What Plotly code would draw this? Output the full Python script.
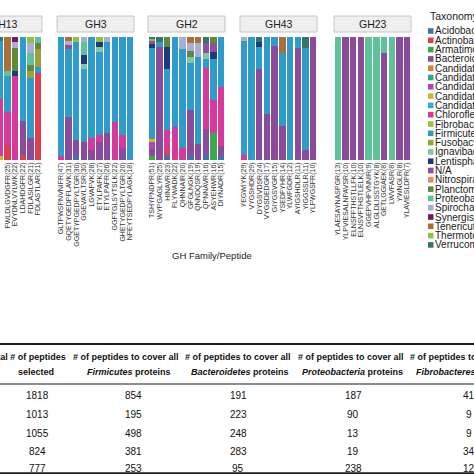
import plotly.graph_objects as go

# ---------------- data ----------------
taxa = ["Acidobacteria", "Actinobacteria", "Armatimonadetes", "Bacteroidetes",
        "Candidatus Cloacimonetes", "Candidatus Melainabacteria", "Candidatus Omnitrophica",
        "Candidatus Saccharibacteria", "Candidatus Tectomicrobia", "Chloroflexi",
        "Fibrobacteres", "Firmicutes", "Fusobacteria", "Ignavibacteriae", "Lentisphaerae",
        "N/A", "Nitrospirae", "Planctomycetes", "Proteobacteria", "Spirochaetes",
        "Synergistetes", "Tenericutes", "Thermotogae", "Verrucomicrobia"]
taxa_colors = ["#4B6DB0", "#DE3F4E", "#3BAA4A", "#8A4B9C",
               "#D4843A", "#2EA98C", "#B247B3", "#CDBA2D", "#2CB3CC", "#D5399B",
               "#9CBE42", "#2F9BCB", "#9AA23A", "#7DC7A4", "#1D3C7D",
               "#8E4FA6", "#E8866E", "#5F8A3A", "#5EC39C", "#A8AED6",
               "#6B1D5E", "#A8713A", "#8CC441", "#33776B"]

families = ["GH13", "GH3", "GH2", "GH43", "GH23"]

gh13_peptides = ["DAVNHMR(45)", "GDGFRLDAVK(38)", "WDLNEPVR(33)", "IDGFRFDAAK(30)",
                 "GVDGFRIDTMNR(28)", "FWLDLGVDGFR(25)", "EVYDNLVYLWK(22)", "LDAHDGFR(22)",
                 "FDLASILGR(21)", "FDLASTLAR(21)"]
gh3_peptides = ["GLTFWSPNVNIFR(47)", "GQETYGEDPFLAVK(31)", "GGETYPGEDPYLTGR(30)",
                "GGEVAYLTSR(30)", "LGVAFVK(28)", "ETYLPAFK(27)", "ETYLPAFR(26)",
                "GGFTGLSYTSLK(22)", "GHETYGEDPYLTGR(20)", "NFEYTSEDPYLAGK(18)"]
gh2_peptides = ["TSHYPNDPR(51)", "WYPGAGLYR(25)", "HINAVR(23)", "FLYWADK(22)",
                "QHNNAIR(20)", "GFGLNGK(19)", "QNNDQSR(19)", "QPNNAVR(16)",
                "ASYEHWR(16)", "DIYNADR(15)"]
gh43_peptides = ["YEGWIYK(29)", "VYGSHDR(29)", "DYGSVDSR(24)", "VYGSDEDGR(17)",
                 "GIYGSVGR(15)", "YSEDFYHR(14)", "YLWFGDR(12)", "AYIGSHDLR(11)",
                 "YIGGSSLR(11)", "YLFWGSFR(10)"]
gh23_peptides = ["YLAESAYNASPGR(13)", "YLPVIESALNPAVSR(10)", "ELNSFFTHSTLLFK(10)",
                 "ELNSVFTHSTLELK(10)", "GGEPVHFVNNIR(9)", "ALGLDLISSTGYK(8)",
                 "GETLGGIAEK(8)", "LWVFASR(8)", "YWNGLR(8)", "YLAVIESLDPR(7)"]

# fraction of proteins per taxon, per peptide (bar)
gh13_taxa = {
    "Actinobacteria": [0.10, 0, 0, 0.10, 0, 0.11, 0, 0.04, 0, 0.71],
    "Bacteroidetes": [0.30, 0.20, 0.30, 0, 0, 0, 0, 0.28, 0.18, 0],
    "Candidatus Saccharibacteria": [0, 0, 0, 0, 0.03, 0, 0, 0, 0, 0],
    "Chloroflexi": [0, 0.30, 0, 0.50, 0.47, 0.28, 0.68, 0, 0, 0],
    "Firmicutes": [0.60, 0.50, 0.70, 0.40, 0.47, 0.29, 0, 0.68, 0.49, 0.05],
    "Fusobacteria": [0, 0, 0, 0, 0, 0, 0, 0, 0.05, 0.14],
    "Lentisphaerae": [0, 0, 0, 0, 0, 0, 0.04, 0, 0, 0],
    "Planctomycetes": [0, 0, 0, 0, 0, 0, 0.19, 0, 0.05, 0.05],
    "Proteobacteria": [0, 0, 0, 0, 0, 0.04, 0, 0, 0.10, 0.05],
    "Spirochaetes": [0, 0, 0, 0, 0, 0, 0.05, 0, 0.08, 0],
    "Synergistetes": [0, 0, 0, 0, 0, 0, 0.04, 0, 0, 0],
    "Tenericutes": [0, 0, 0, 0, 0, 0.28, 0, 0, 0, 0],
    "Thermotogae": [0, 0, 0, 0, 0, 0, 0, 0, 0.05, 0],
    "Verrucomicrobia": [0, 0, 0, 0, 0.03, 0, 0, 0, 0, 0],
}
gh3_taxa = {
    "Acidobacteria": [0, 0, 0.04, 0, 0, 0, 0, 0, 0, 0],
    "Bacteroidetes": [0, 0.35, 0.12, 0.15, 0.08, 0.15, 0.22, 0, 0.10, 0],
    "Chloroflexi": [0.03, 0, 0, 0, 0.10, 0.05, 0, 0.31, 0.10, 0],
    "Firmicutes": [0.97, 0.55, 0.80, 0.59, 0.82, 0.68, 0.74, 0.69, 0.80, 1.0],
    "Ignavibacteriae": [0, 0, 0, 0.04, 0, 0.04, 0, 0, 0, 0],
    "Lentisphaerae": [0, 0, 0, 0.07, 0, 0.04, 0, 0, 0, 0],
    "N/A": [0, 0.035, 0, 0, 0, 0, 0, 0, 0, 0],
    "Proteobacteria": [0, 0, 0, 0.11, 0, 0, 0, 0, 0, 0],
    "Spirochaetes": [0, 0.03, 0, 0.04, 0, 0, 0.04, 0, 0, 0],
    "Tenericutes": [0, 0.035, 0, 0, 0, 0, 0, 0, 0, 0],
    "Thermotogae": [0, 0, 0.04, 0, 0, 0.04, 0, 0, 0, 0],
}
gh2_taxa = {
    "Acidobacteria": [0, 0, 0.04, 0, 0, 0.04, 0, 0.05, 0, 0.04],
    "Actinobacteria": [0, 0, 0.04, 0, 0, 0, 0, 0, 0, 0],
    "Armatimonadetes": [0.03, 0, 0, 0, 0, 0, 0, 0, 0.22, 0],
    "Bacteroidetes": [0.06, 0.92, 0, 0, 0, 0.37, 0.13, 0.20, 0, 0.07],
    "Candidatus Omnitrophica": [0.06, 0, 0, 0, 0, 0, 0, 0, 0, 0],
    "Candidatus Saccharibacteria": [0.02, 0, 0, 0, 0, 0, 0, 0, 0, 0],
    "Chloroflexi": [0, 0, 0.16, 0.27, 0.10, 0, 0, 0.50, 0.27, 0.48],
    "Firmicutes": [0.74, 0.04, 0.50, 0.73, 0.80, 0.38, 0.71, 0.07, 0.33, 0.41],
    "Ignavibacteriae": [0, 0, 0, 0, 0, 0.05, 0, 0.05, 0, 0],
    "Lentisphaerae": [0.03, 0, 0.18, 0, 0, 0, 0, 0, 0.06, 0],
    "N/A": [0.03, 0, 0, 0, 0, 0, 0, 0.08, 0.07, 0],
    "Planctomycetes": [0, 0, 0.08, 0, 0, 0.05, 0, 0, 0.05, 0],
    "Spirochaetes": [0, 0, 0, 0, 0.10, 0.06, 0.11, 0, 0, 0],
    "Tenericutes": [0, 0, 0, 0, 0, 0.05, 0.05, 0, 0, 0],
    "Thermotogae": [0.015, 0, 0, 0, 0, 0, 0, 0, 0, 0],
    "Verrucomicrobia": [0.015, 0.04, 0, 0, 0, 0, 0, 0.05, 0, 0],
}
gh43_taxa = {
    "Bacteroidetes": [0, 0, 0.74, 0.37, 0.93, 0.28, 0, 0.91, 0.08, 1.0],
    "Chloroflexi": [0.04, 0, 0, 0, 0, 0, 0, 0, 0, 0],
    "Firmicutes": [0.93, 1.0, 0.18, 0.63, 0.07, 0.59, 1.0, 0.09, 0.83, 0],
    "Lentisphaerae": [0, 0, 0.04, 0, 0, 0, 0, 0, 0, 0],
    "Spirochaetes": [0.03, 0, 0, 0, 0, 0, 0, 0, 0, 0],
    "Tenericutes": [0, 0, 0, 0, 0, 0.13, 0, 0, 0, 0],
    "Verrucomicrobia": [0, 0, 0.04, 0, 0, 0, 0, 0, 0.09, 0],
}
gh23_taxa = {
    "Bacteroidetes": [0, 1.0, 1.0, 1.0, 0, 0, 0.87, 0, 1.0, 1.0],
    "Proteobacteria": [1.0, 0, 0, 0, 1.0, 1.0, 0.13, 1.0, 0, 0],
}

# table below the chart
table_phyla = ["Firmicutes", "Bacteroidetes", "Proteobacteria", "Fibrobacteres"]
total_selected = [1818, 1013, 1055, 824, 777]
firmicutes_cover = [854, 195, 498, 381, 253]
bacteroidetes_cover = [191, 223, 248, 283, 95]
proteobacteria_cover = [187, 90, 13, 19, 238]
fibrobacteres_cover = [41, 9, 9, 34, 12]

# ---------------- layout helpers ----------------
W = 474.0
FONT = "Liberation Sans, Arial, sans-serif"


def px(v):
    return v / W


def py(v):
    return 1 - v / W


panel_start = [-35, 57, 148, 240, 334]
panel_width = 77.0
bar_top, bar_bottom = 37, 160

peptide_lists = [gh13_peptides, gh3_peptides, gh2_peptides, gh43_peptides, gh23_peptides]
taxa_tables = [gh13_taxa, gh3_taxa, gh2_taxa, gh43_taxa, gh23_taxa]
color_of = dict(zip(taxa, taxa_colors))

fig = go.Figure()
layout = dict(
    width=474, height=474, margin=dict(l=0, r=0, t=0, b=0, pad=0),
    paper_bgcolor="white", plot_bgcolor="white", template="none",
    barmode="stack", bargap=0.17, showlegend=False,
    font=dict(family=FONT, color="#222222"),
    yaxis=dict(domain=[py(bar_bottom), py(bar_top)], range=[0, 1], visible=False,
               fixedrange=True),
    shapes=[], annotations=[],
)

for i, (fam, peps, tab) in enumerate(zip(families, peptide_lists, taxa_tables)):
    ax = "x" if i == 0 else "x%d" % (i + 1)
    axname = "xaxis" if i == 0 else "xaxis%d" % (i + 1)
    s = panel_start[i]
    e = s + panel_width
    unit = panel_width / len(peps)
    v0, v1 = max(s, 0), min(e, W)
    rng = [-0.5 + (v0 - s) / unit, len(peps) - 0.5 - (e - v1) / unit]
    layout[axname] = dict(
        domain=[px(v0), px(v1)], anchor="y", type="category",
        categoryorder="array", categoryarray=peps, range=rng,
        tickmode="array", tickvals=peps, ticktext=peps,
        tickangle=-90, ticks="", showline=False, showgrid=False, zeroline=False,
        tickfont=dict(size=7, color="#333333", family=FONT),
        automargin=False, fixedrange=True,
    )
    for t in taxa:  # alphabetical: first taxon at the bottom of each stack
        if t in tab and any(v > 0 for v in tab[t]):
            fig.add_trace(go.Bar(
                x=peps, y=tab[t], name=t, xaxis=ax, yaxis="y",
                marker=dict(color=color_of[t], line=dict(width=0)),
                hovertemplate="%{x}<br>" + t + ": %{y:.2f}<extra></extra>",
            ))
    # facet strip
    layout["shapes"].append(dict(
        type="rect", xref="paper", yref="paper", x0=px(s), x1=px(e),
        y0=py(32), y1=py(16), fillcolor="#EFEFEF", line=dict(color="#C6C6C6", width=1),
        layer="below"))
    layout["annotations"].append(dict(
        text=fam, xref="paper", yref="paper", x=px((s + e) / 2), y=py(24),
        xanchor="center", yanchor="middle", showarrow=False,
        font=dict(size=10.5, color="#1A1A1A", family=FONT)))

# x axis title
layout["annotations"].append(dict(
    text="GH Family/Peptide", xref="paper", yref="paper", x=px(212), y=py(255),
    xanchor="center", yanchor="middle", showarrow=False,
    font=dict(size=9.5, color="#222222", family=FONT)))

# manual legend
layout["annotations"].append(dict(
    text="Taxonomy", xref="paper", yref="paper", x=px(428), y=py(16),
    xanchor="left", yanchor="middle", showarrow=False,
    font=dict(size=10.5, color="#1A1A1A", family=FONT)))
for k, (t, c) in enumerate(zip(taxa, taxa_colors)):
    yc = 31 + 9.3 * k
    layout["shapes"].append(dict(
        type="rect", xref="paper", yref="paper", x0=px(428), x1=px(433.5),
        y0=py(yc + 2.8), y1=py(yc - 2.8), fillcolor=c, line=dict(width=0)))
    layout["annotations"].append(dict(
        text=t, xref="paper", yref="paper", x=px(432.5), y=py(yc),
        xanchor="left", yanchor="middle", showarrow=False,
        font=dict(size=10, color="#1A1A1A", family=FONT)))

# table
header_x = [26, 126, 238, 351, 463]
header2_x = [36, 129, 240, 352, 465]
value_x = [37, 133, 238, 353, 469]
header1 = ["<b>Total # of peptides</b>"] + ["<b># of peptides to cover all</b>"] * len(table_phyla)
header2 = ["<b>selected</b>"] + ["<b><i>%s</i> proteins</b>" % p for p in table_phyla]
columns = [total_selected, firmicutes_cover, bacteroidetes_cover,
           proteobacteria_cover, fibrobacteres_cover]
for hx, h2x, h1, h2 in zip(header_x, header2_x, header1, header2):
    for txt, xx, yy in ((h1, hx, 357), (h2, h2x, 372)):
        layout["annotations"].append(dict(
            text=txt, xref="paper", yref="paper", x=px(xx), y=py(yy),
            xanchor="center", yanchor="middle", showarrow=False,
            font=dict(size=9, color="#111111", family=FONT)))
row_y = [395, 414, 433, 451, 468]
for cx, col in zip(value_x, columns):
    for ry, v in zip(row_y, col):
        layout["annotations"].append(dict(
            text=str(v), xref="paper", yref="paper", x=px(cx), y=py(ry),
            xanchor="center", yanchor="middle", showarrow=False,
            font=dict(size=10, color="#111111", family=FONT)))
for yy, wdt in ((344, 2.2), (384, 1.0), (473.5, 2.5)):
    layout["shapes"].append(dict(
        type="line", xref="paper", yref="paper", x0=0, x1=1, y0=py(yy), y1=py(yy),
        line=dict(color="#1A1A1A", width=wdt)))

fig.update_layout(**layout)
fig.write_html("out.html", config={"displayModeBar": False})
